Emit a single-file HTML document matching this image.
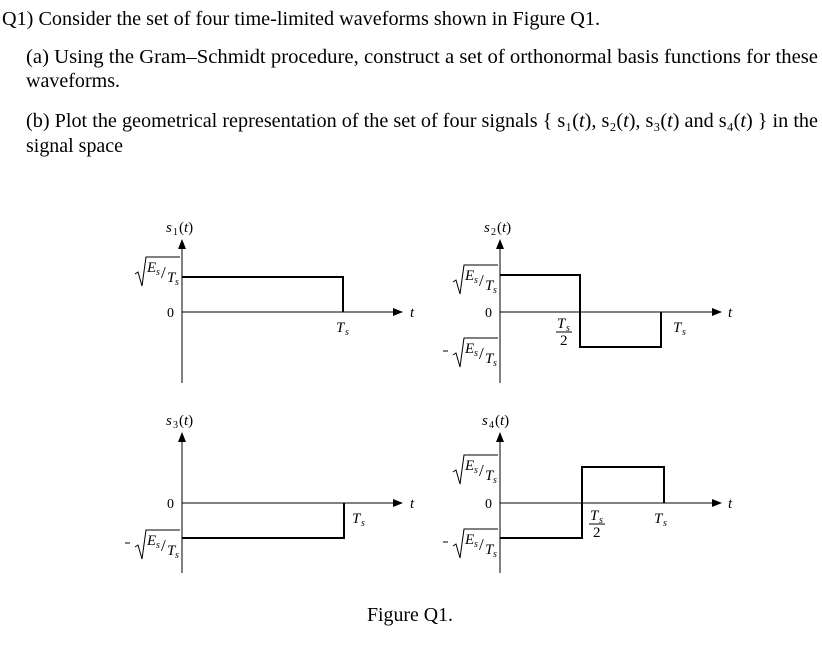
<!DOCTYPE html>
<html><head><meta charset="utf-8"><style>
html,body{margin:0;padding:0;background:#fff;}
svg{display:block;}
.t{font-family:"Liberation Serif",serif;font-size:20px;fill:#000;}
.m{font-family:"Liberation Serif",serif;font-style:italic;fill:#000;}
.n{font-family:"Liberation Serif",serif;fill:#000;}
</style></head><body>
<svg width="822" height="649" viewBox="0 0 822 649" xmlns="http://www.w3.org/2000/svg">
<defs>
<marker id="ar" markerWidth="10" markerHeight="8" refX="9" refY="4" orient="auto" markerUnits="userSpaceOnUse"><path d="M0,0 L10,4 L0,8 z" fill="#000"/></marker>
<g id="sq">
<path d="M0,10 L3,8 L7,22 L11,-7 L45,-7" fill="none" stroke="#000" stroke-width="1"/>
<text x="12" y="8" class="m" font-size="15">E</text>
<text x="21" y="11" class="m" font-size="10">s</text>
<text x="26" y="14" class="n" font-size="17">/</text>
<text x="32" y="18" class="m" font-size="15">T</text>
<text x="40" y="21" class="m" font-size="10">s</text>
</g>
<g id="half">
<text x="0" y="0" class="m" font-size="15">T</text><text x="9" y="3" class="m" font-size="10">s</text>
<line x1="-1" y1="4" x2="15" y2="4" stroke="#000" stroke-width="1"/>
<text x="3" y="17" class="n" font-size="15">2</text>
</g>
</defs>
<text class="t" x="2" y="25" textLength="598" lengthAdjust="spacingAndGlyphs">Q1) Consider the set of four time-limited waveforms shown in Figure Q1.</text>
<text class="t" x="26" y="63" textLength="792" lengthAdjust="spacingAndGlyphs">(a) Using the Gram–Schmidt procedure, construct a set of orthonormal basis functions for these</text>
<text class="t" x="26" y="87" textLength="94" lengthAdjust="spacingAndGlyphs">waveforms.</text>
<text class="t" x="26" y="127" textLength="792" lengthAdjust="spacingAndGlyphs">(b) Plot the geometrical representation of the set of four signals { s₁(<tspan font-style="italic">t</tspan>), s₂(<tspan font-style="italic">t</tspan>), s₃(<tspan font-style="italic">t</tspan>) and s₄(<tspan font-style="italic">t</tspan>) } in the</text>
<text class="t" x="26" y="152" textLength="97" lengthAdjust="spacingAndGlyphs">signal space</text>

<g stroke="#000" fill="none" stroke-width="1">
<line x1="182" y1="383" x2="182" y2="240" marker-end="url(#ar)"/>
<line x1="182" y1="312" x2="402" y2="312" marker-end="url(#ar)"/>
<line x1="500" y1="383" x2="500" y2="240" marker-end="url(#ar)"/>
<line x1="500" y1="312" x2="721" y2="312" marker-end="url(#ar)"/>
<line x1="182" y1="573" x2="182" y2="433" marker-end="url(#ar)"/>
<line x1="182" y1="503" x2="402" y2="503" marker-end="url(#ar)"/>
<line x1="500" y1="573" x2="500" y2="433" marker-end="url(#ar)"/>
<line x1="500" y1="503" x2="721" y2="503" marker-end="url(#ar)"/>
</g>
<g stroke="#000" fill="none" stroke-width="2">
<path d="M182,277 L343,277 L343,312"/>
<path d="M500,275 L580,275 L580,347 L661,347 L661,312"/>
<path d="M182,538 L344,538 L344,503"/>
<path d="M500,538 L582,538 L582,467 L664,467 L664,503"/>
</g>
<text x="166" y="232" class="m" font-size="15">s</text><text x="173" y="235" class="n" font-size="10">1</text><text x="179" y="232" class="n" font-size="15">(<tspan font-style="italic">t</tspan>)</text>
<text x="484" y="232" class="m" font-size="15">s</text><text x="491" y="235" class="n" font-size="10">2</text><text x="497" y="232" class="n" font-size="15">(<tspan font-style="italic">t</tspan>)</text>
<text x="166" y="425" class="m" font-size="15">s</text><text x="173" y="428" class="n" font-size="10">3</text><text x="179" y="425" class="n" font-size="15">(<tspan font-style="italic">t</tspan>)</text>
<text x="482" y="425" class="m" font-size="15">s</text><text x="489" y="428" class="n" font-size="10">4</text><text x="495" y="425" class="n" font-size="15">(<tspan font-style="italic">t</tspan>)</text>

<text x="410" y="317" class="m" font-size="15">t</text>
<text x="728" y="317" class="m" font-size="15">t</text>
<text x="410" y="508" class="m" font-size="15">t</text>
<text x="728" y="508" class="m" font-size="15">t</text>

<text x="167" y="317" class="n" font-size="14">0</text>
<text x="485" y="317" class="n" font-size="14">0</text>
<text x="167" y="508" class="n" font-size="14">0</text>
<text x="485" y="508" class="n" font-size="14">0</text>

<text x="336" y="332" class="m" font-size="15">T</text><text x="345" y="335" class="m" font-size="10">s</text>
<text x="673" y="332" class="m" font-size="15">T</text><text x="682" y="335" class="m" font-size="10">s</text>
<text x="352" y="523" class="m" font-size="15">T</text><text x="361" y="526" class="m" font-size="10">s</text>
<text x="654" y="523" class="m" font-size="15">T</text><text x="663" y="526" class="m" font-size="10">s</text>
<use href="#half" x="557" y="328"/>
<use href="#half" x="590" y="520"/>

<use href="#sq" x="135" y="264"/>
<use href="#sq" x="453" y="272"/>
<use href="#sq" x="453" y="345"/>
<use href="#sq" x="135" y="537"/>
<use href="#sq" x="453" y="462"/>
<use href="#sq" x="453" y="536"/>
<line x1="443" y1="351" x2="448" y2="351" stroke="#000"/>
<line x1="125" y1="543" x2="130" y2="543" stroke="#000"/>
<line x1="443" y1="542" x2="448" y2="542" stroke="#000"/>

<text x="410" y="621" class="t" text-anchor="middle" font-size="19" textLength="86" lengthAdjust="spacingAndGlyphs">Figure Q1.</text>
</svg>
</body></html>
